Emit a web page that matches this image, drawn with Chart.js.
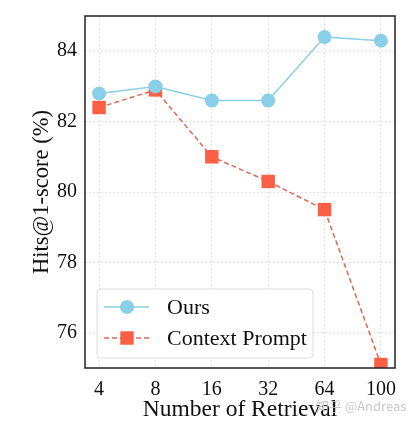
<!DOCTYPE html>
<html>
<head>
<meta charset="utf-8">
<script src="https://cdn.jsdelivr.net/npm/chart.js@4.4.0/dist/chart.umd.min.js"></script>
<style>
  html, body { margin: 0; padding: 0; background: #fff; }
  #wrap { width: 415px; height: 426px; }
</style>
</head>
<body>
<div id="wrap"><canvas id="chart" width="415" height="426"></canvas></div>
<script>
// Data
const retrievalLabels = ["4", "8", "16", "32", "64", "100"];
const oursValues = [82.8, 83.0, 82.6, 82.6, 84.4, 84.3];
const contextValues = [82.4, 82.9, 81.0, 80.3, 79.5, 75.1];
const yTicks = [76, 78, 80, 82, 84];

const serif = "'Liberation Serif', 'DejaVu Serif', serif";
const oursColor = "#89cfe8";
const ctxMarker = "#fc5f45";
const ctxLine = "#e0674f";

// Frame round the plot area, the legend box and the watermark
const decorPlugin = {
    id: "decor",
    afterDraw(chart) {
        const ctx = chart.ctx;
        const a = chart.chartArea;
        ctx.save();
        ctx.strokeStyle = "#222";
        ctx.lineWidth = 1.5;
        ctx.strokeRect(a.left, a.top, a.right - a.left, a.bottom - a.top);

        // legend
        const bx = 97, by = 289, bw = 216, bh = 69;
        ctx.fillStyle = "rgba(255,255,255,0.85)";
        ctx.strokeStyle = "#dcdcdc";
        ctx.lineWidth = 1;
        ctx.beginPath();
        ctx.roundRect(bx, by, bw, bh, 4);
        ctx.fill();
        ctx.stroke();

        const rows = [
            { ds: chart.data.datasets[0], y: 307 },
            { ds: chart.data.datasets[1], y: 338 }
        ];
        rows.forEach(r => {
            ctx.strokeStyle = r.ds.borderColor;
            ctx.lineWidth = r.ds.borderWidth;
            ctx.setLineDash(r.ds.borderDash || []);
            ctx.beginPath();
            ctx.moveTo(104, r.y);
            ctx.lineTo(149, r.y);
            ctx.stroke();
            ctx.setLineDash([]);
            ctx.fillStyle = r.ds.pointBackgroundColor;
            ctx.beginPath();
            if (r.ds.pointStyle === "rect") {
                const s = Math.SQRT1_2 * r.ds.pointRadius;
                ctx.rect(127 - s, r.y - s, 2 * s, 2 * s);
            } else {
                ctx.arc(127, r.y, r.ds.pointRadius, 0, Math.PI * 2);
            }
            ctx.fill();
            ctx.fillStyle = "#111";
            ctx.font = "22px " + serif;
            ctx.textBaseline = "middle";
            ctx.textAlign = "left";
            ctx.fillText(r.ds.label, 167, r.y + 1);
        });

        // watermark
        ctx.fillStyle = "rgba(190,190,190,0.85)";
        ctx.font = "13px 'Noto Sans CJK SC', 'Noto Sans', sans-serif";
        ctx.textAlign = "left";
        ctx.textBaseline = "middle";
        ctx.fillText("知乎 @Andreas", 316, 406);
        ctx.restore();
    }
};

new Chart(document.getElementById("chart").getContext("2d"), {
    type: "line",
    data: {
        datasets: [
            {
                label: "Ours",
                data: oursValues.map((v, i) => ({ x: i, y: v })),
                borderColor: oursColor,
                borderWidth: 1.5,
                pointStyle: "circle",
                pointRadius: 7,
                pointBackgroundColor: oursColor,
                pointBorderWidth: 0,
                tension: 0
            },
            {
                label: "Context Prompt",
                data: contextValues.map((v, i) => ({ x: i, y: v })),
                borderColor: ctxLine,
                borderWidth: 1.5,
                borderDash: [5, 3],
                pointStyle: "rect",
                pointRadius: 9.5,
                pointBackgroundColor: ctxMarker,
                pointBorderWidth: 0,
                tension: 0
            }
        ]
    },
    options: {
        responsive: false,
        animation: false,
        layout: { padding: { top: 16, right: 20, left: 29, bottom: 0 } },
        plugins: {
            legend: { display: false },
            tooltip: { enabled: false }
        },
        scales: {
            x: {
                type: "linear",
                min: -0.25,
                max: 5.25,
                afterBuildTicks(scale) {
                    scale.ticks = retrievalLabels.map((l, i) => ({ value: i }));
                },
                afterFit(scale) {
                    scale.height = 58;
                    scale.paddingLeft = 0;
                    scale.paddingRight = 0;
                },
                ticks: {
                    callback: (v) => retrievalLabels[v],
                    color: "#111",
                    font: { family: serif, size: 20 },
                    padding: 10,
                    maxRotation: 0,
                    autoSkip: false
                },
                grid: {
                    color: "#e2e2e2",
                    lineWidth: 1,
                    drawTicks: false
                },
                border: { display: false, dash: [2, 2] },
                title: {
                    display: true,
                    text: "Number of Retrieval",
                    color: "#111",
                    font: { family: serif, size: 23.5 },
                    padding: { top: 0, bottom: 2 }
                }
            },
            y: {
                min: 75,
                max: 85,
                afterBuildTicks(scale) {
                    scale.ticks = yTicks.map(v => ({ value: v }));
                },
                afterFit(scale) {
                    scale.width = 56;
                    scale.paddingTop = 0;
                    scale.paddingBottom = 0;
                },
                ticks: {
                    color: "#111",
                    font: { family: serif, size: 20 },
                    padding: 8
                },
                grid: {
                    color: "#e2e2e2",
                    lineWidth: 1,
                    drawTicks: false
                },
                border: { display: false, dash: [2, 2] },
                title: {
                    display: true,
                    text: "Hits@1-score (%)",
                    color: "#111",
                    font: { family: serif, size: 22.5 },
                    padding: { top: 0, bottom: 0 }
                }
            }
        }
    },
    plugins: [decorPlugin]
});
</script>
</body>
</html>
